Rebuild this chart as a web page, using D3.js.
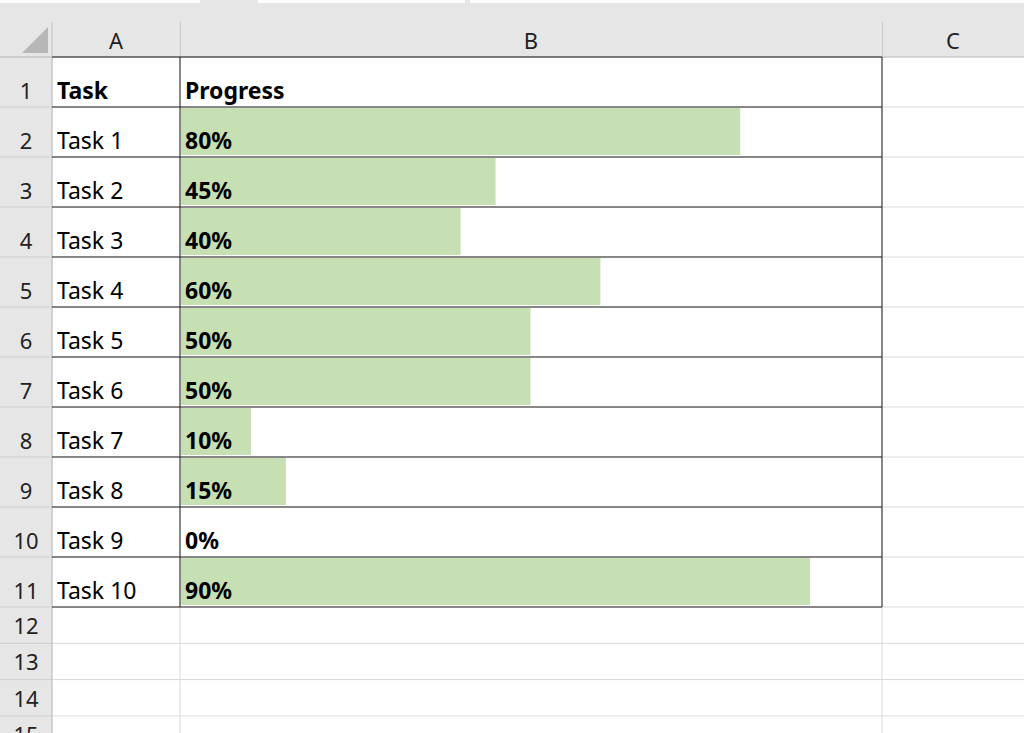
<!DOCTYPE html>
<html><head><meta charset="utf-8">
<script src="https://cdn.jsdelivr.net/npm/d3@7"></script>
<style>body{margin:0;background:#fff}svg{display:block}</style></head>
<body><svg id="c" width="1024" height="733"></svg>
<script>
const tasks=["Task 1","Task 2","Task 3","Task 4","Task 5","Task 6","Task 7","Task 8","Task 9","Task 10"];
const progress=[0.80,0.45,0.40,0.60,0.50,0.50,0.10,0.15,0.00,0.90];
const columns=["A","B","C"];
const headers=["Task","Progress"];

const svg=d3.select("#c");
const font="'Noto Sans', 'Open Sans', sans-serif";
const colX=[52,180,882,1024];
const rowTop=57, rowH=50, extraH=36.3;
const rowsY=[rowTop];
for(let i=0;i<11;i++) rowsY.push(rowTop+(i+1)*rowH);
for(let i=0;i<4;i++) rowsY.push(rowsY[rowsY.length-1]+extraH);

svg.append("rect").attr("x",0).attr("y",0).attr("width",1024).attr("height",22).attr("fill","#e6e6e6");
[[0,200],[258,465],[470,1024]].forEach(([a,b])=>svg.append("rect").attr("x",a).attr("y",0).attr("width",b-a).attr("height",3).attr("fill","#fff"));
svg.append("rect").attr("x",0).attr("y",22).attr("width",1024).attr("height",35).attr("fill","#e6e6e6");
svg.append("rect").attr("x",0).attr("y",57).attr("width",52).attr("height",733-57).attr("fill","#e6e6e6");
svg.append("path").attr("d","M22,53L48,53L48,27Z").attr("fill","#b7b7b7");

const g=svg.append("g");
rowsY.forEach(y=>g.append("line").attr("x1",52).attr("x2",1024).attr("y1",y).attr("y2",y).attr("stroke","#d9d9d9"));
colX.slice(0,3).forEach(x=>g.append("line").attr("x1",x).attr("x2",x).attr("y1",57).attr("y2",733).attr("stroke","#d9d9d9"));
colX.slice(1,3).forEach(x=>g.append("line").attr("x1",x+0.5).attr("x2",x+0.5).attr("y1",22).attr("y2",57).attr("stroke","#c8c8c8"));
rowsY.forEach(y=>g.append("line").attr("x1",0).attr("x2",52).attr("y1",y).attr("y2",y).attr("stroke","#cfcfcf"));
svg.append("line").attr("x1",0).attr("x2",1024).attr("y1",57).attr("y2",57).attr("stroke","#c0c0c0");
svg.append("line").attr("x1",52).attr("x2",52).attr("y1",22).attr("y2",733).attr("stroke","#c0c0c0");

columns.forEach((c,i)=>svg.append("text").attr("x",(colX[i]+colX[i+1])/2).attr("y",49).attr("text-anchor","middle")
  .attr("font-family",font).attr("font-size",22).attr("fill","#222").text(c));
for(let i=0;i<15;i++){
  const y0=rowsY[i];
  svg.append("text").attr("x",26).attr("y",i<11?y0+42:y0+27).attr("text-anchor","middle")
    .attr("font-family",font).attr("font-size",22).attr("fill","#222").text(i+1);
}

const x=d3.scaleLinear().domain([0,1]).range([181,880]);
const y=d3.scaleBand().domain(tasks).range([rowTop+rowH,rowTop+rowH*11]);
svg.append("g").selectAll("rect").data(tasks).join("rect")
  .attr("x",x(0)).attr("y",d=>y(d)+1).attr("width",(d,i)=>x(progress[i])-x(0)).attr("height",y.bandwidth()-3)
  .attr("fill","#c6e0b4");

for(let i=0;i<=11;i++) svg.append("line").attr("x1",52).attr("x2",882).attr("y1",rowsY[i]).attr("y2",rowsY[i]).attr("stroke","#222");
[180,882].forEach(xx=>svg.append("line").attr("x1",xx).attr("x2",xx).attr("y1",57).attr("y2",rowsY[11]).attr("stroke","#222"));

const t=svg.append("g").attr("font-family",font).attr("font-size",23).attr("fill","#000");
t.append("text").attr("x",57).attr("y",99).attr("font-weight","bold").text(headers[0]);
t.append("text").attr("x",185).attr("y",99).attr("font-weight","bold").text(headers[1]);
tasks.forEach((d,i)=>{
  t.append("text").attr("x",57).attr("y",y(d)+42).text(d);
  t.append("text").attr("x",185).attr("y",y(d)+42).attr("font-weight","bold").text(d3.format(".0%")(progress[i]));
});
</script></body></html>
